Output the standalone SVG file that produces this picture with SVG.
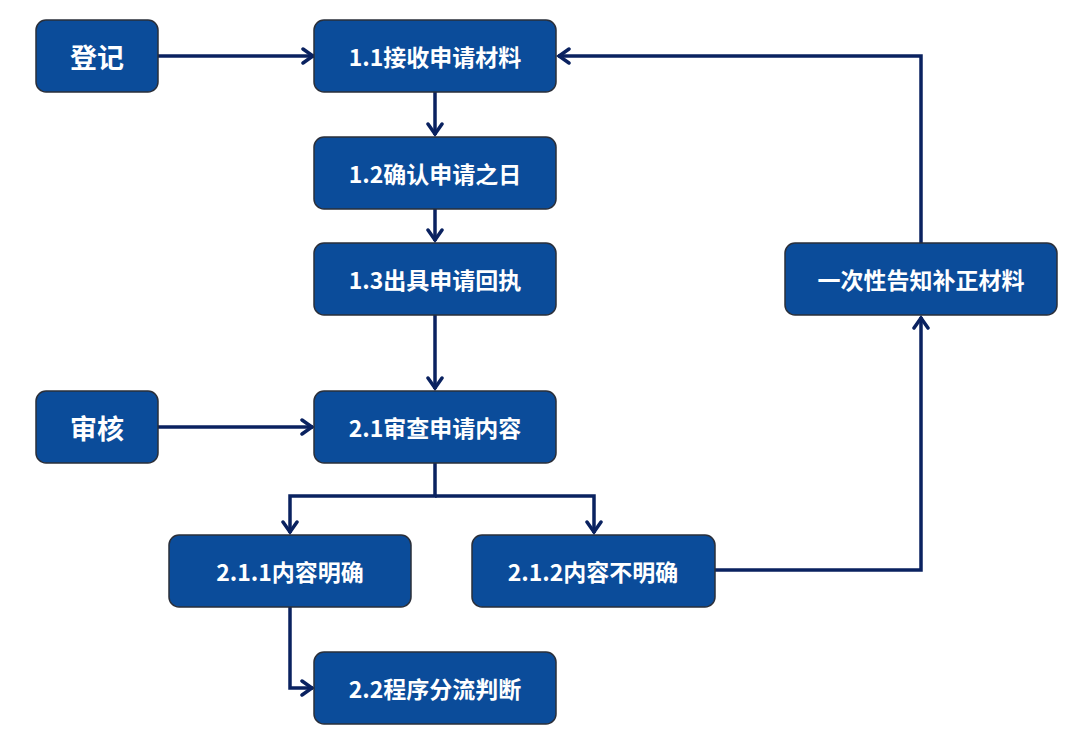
<svg xmlns="http://www.w3.org/2000/svg" width="1075" height="741" viewBox="0 0 1075 741">
<defs>
<style>
.box{fill:#0b4c9a;stroke:#2a2f3a;stroke-width:1.5}
.lbl{fill:#ffffff;font-family:"Microsoft YaHei","Noto Sans CJK SC",sans-serif;font-weight:bold;font-size:23px;text-anchor:middle;dominant-baseline:central}
.big{font-size:27px}
.conn{fill:none;stroke:#0a2260;stroke-width:3.5;marker-end:url(#arr)}
</style>
<marker id="arr" markerUnits="userSpaceOnUse" markerWidth="16" markerHeight="18" viewBox="0 0 16 18" refX="14" refY="9" orient="auto">
<path d="M3,2 L13,9 L3,16" fill="none" stroke="#0a2260" stroke-width="3.5" stroke-linecap="round" stroke-linejoin="miter"/>
</marker>
</defs>
<rect width="1075" height="741" fill="#ffffff"/>
<g id="connectors">
<path class="conn" d="M158,56 H314"/>
<path class="conn" d="M435,92 V135"/>
<path class="conn" d="M435,209 V241"/>
<path class="conn" d="M435,315 V389"/>
<path class="conn" d="M158,427 H313"/>
<path class="conn" d="M435,463 V496 H290 V533"/>
<path class="conn" d="M435,496 H594 V533"/>
<path class="conn" d="M290,607 V688 H313"/>
<path class="conn" d="M715,570 H921 V317"/>
<path class="conn" d="M921,243 V56 H558"/>
</g>
<g id="n-dengji"><rect class="box" x="36" y="20" width="122" height="72" rx="10"/><text class="lbl big" x="97" y="56">登记</text></g>
<g id="n-1-1"><rect class="box" x="314" y="20" width="242" height="72" rx="10"/><text class="lbl" x="435" y="56">1.1接收申请材料</text></g>
<g id="n-1-2"><rect class="box" x="314" y="137" width="242" height="72" rx="10"/><text class="lbl" x="435" y="173">1.2确认申请之日</text></g>
<g id="n-1-3"><rect class="box" x="314" y="243" width="242" height="72" rx="10"/><text class="lbl" x="435" y="279">1.3出具申请回执</text></g>
<g id="n-shenhe"><rect class="box" x="36" y="391" width="122" height="72" rx="10"/><text class="lbl big" x="97" y="427">审核</text></g>
<g id="n-2-1"><rect class="box" x="314" y="391" width="242" height="72" rx="10"/><text class="lbl" x="435" y="427">2.1审查申请内容</text></g>
<g id="n-2-1-1"><rect class="box" x="169" y="535" width="242" height="72" rx="10"/><text class="lbl" x="290" y="571">2.1.1内容明确</text></g>
<g id="n-2-1-2"><rect class="box" x="472" y="535" width="243" height="72" rx="10"/><text class="lbl" x="593" y="571">2.1.2内容不明确</text></g>
<g id="n-2-2"><rect class="box" x="314" y="652" width="242" height="72" rx="10"/><text class="lbl" x="435" y="688">2.2程序分流判断</text></g>
<g id="n-buzheng"><rect class="box" x="785" y="243" width="272" height="72" rx="10"/><text class="lbl" x="921" y="279">一次性告知补正材料</text></g>
</svg>
